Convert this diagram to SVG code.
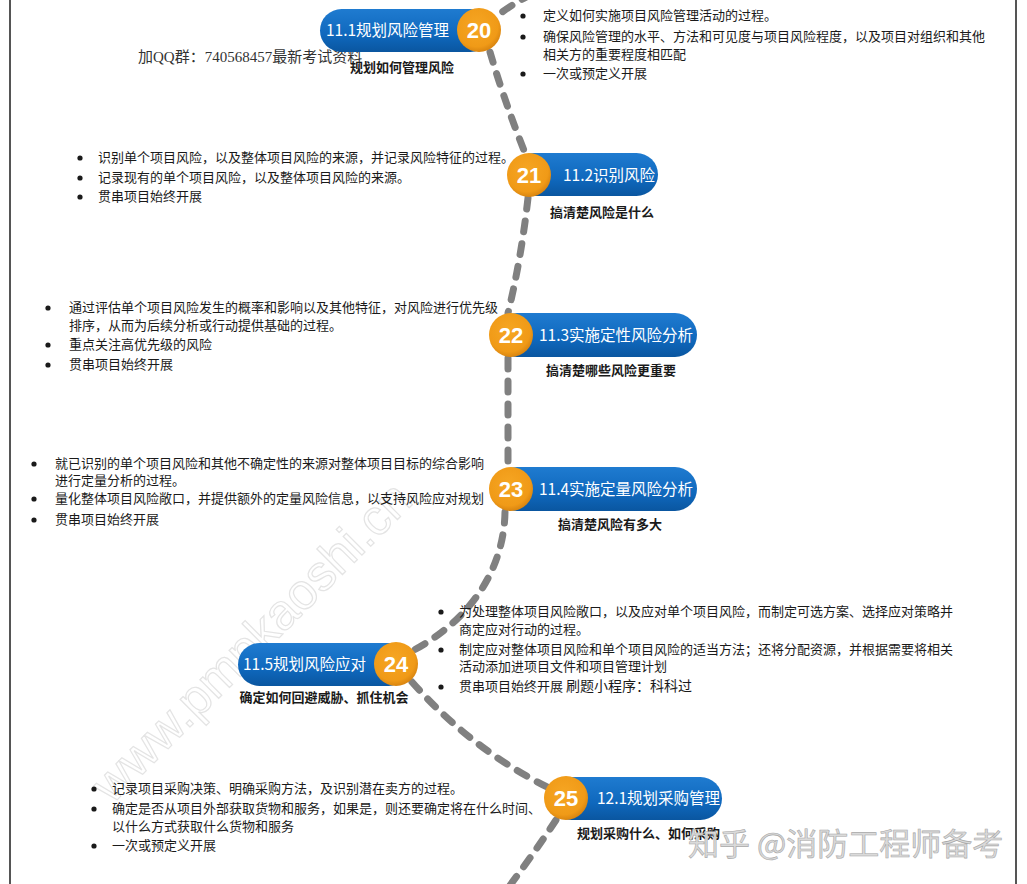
<svg xmlns="http://www.w3.org/2000/svg" width="1027" height="884" viewBox="0 0 1027 884">
<defs>
<linearGradient id="gBlue" x1="0" y1="0" x2="0" y2="1">
<stop offset="0" stop-color="#1f7bd0"/>
<stop offset="0.6" stop-color="#0f68bd"/>
<stop offset="1" stop-color="#0a56a0"/>
</linearGradient>
<radialGradient id="gOrange" cx="0.45" cy="0.4" r="0.6">
<stop offset="0" stop-color="#f6a623"/>
<stop offset="0.8" stop-color="#f09a17"/>
<stop offset="1" stop-color="#d98510"/>
</radialGradient>
<style>
.pill{fill:url(#gBlue);}
.circ{fill:url(#gOrange);}
.lbl{font-family:"Noto Sans CJK SC","Noto Sans",sans-serif;font-size:15.5px;fill:#ffffff;}
.num{font-family:"Liberation Sans","Noto Sans",sans-serif;font-size:22px;font-weight:bold;fill:#ffffff;text-anchor:middle;}
.sub{font-family:"Noto Sans CJK SC",sans-serif;font-size:13px;font-weight:bold;fill:#1a1a1a;}
.txt{font-family:"Noto Sans CJK SC",sans-serif;font-size:13px;fill:#1a1a1a;}
.bul{fill:#1a1a1a;}
.dash{fill:none;stroke:#808080;stroke-width:7;stroke-linecap:round;stroke-dasharray:11 12;}
.wm{font-family:"Liberation Sans",sans-serif;font-size:50px;fill:none;stroke:#e4e4e4;stroke-width:1.2;}
</style>
</defs>
<rect x="0" y="0" width="1027" height="884" fill="#ffffff"/>
<line x1="10" y1="0" x2="10" y2="884" stroke="#555" stroke-width="2"/>
<line x1="1016" y1="0" x2="1016" y2="884" stroke="#555" stroke-width="2"/>

<text class="wm" x="0" y="0" transform="translate(112,805) rotate(-45)">www.pmpkaoshi.cn</text>

<g id="connectors">
<path class="dash" d="M532,-6 Q512,4 497,16"/>
<path class="dash" d="M490,52 Q504,100 525,153"/>
<path class="dash" d="M528,198 Q521,260 508,313"/>
<path class="dash" d="M508,358 L508,467"/>
<path class="dash" d="M505,512 C504,570 470,620 414,650"/>
<path class="dash" d="M412,682 Q470,748 547,787"/>
<path class="dash" d="M556,820 Q535,852 505,892"/>
</g>

<text x="138" y="62" style="font-family:'Liberation Serif','Noto Sans CJK SC',serif;font-size:15px;fill:#333">加QQ群：740568457最新考试资料</text>

<g id="node20">
<rect class="pill" x="320" y="9" width="172" height="43" rx="21.5"/>
<circle class="circ" cx="479" cy="30" r="22"/>
<text class="lbl" x="326" y="36">11.1规划风险管理</text>
<text class="num" x="479" y="38">20</text>
<text class="sub" x="402" y="72" text-anchor="middle">规划如何管理风险</text>
</g>
<g id="text20" class="txt">
<circle class="bul" cx="523" cy="16" r="2.6"/><text x="543" y="20">定义如何实施项目风险管理活动的过程。</text>
<circle class="bul" cx="523" cy="37" r="2.6"/><text x="543" y="41">确保风险管理的水平、方法和可见度与项目风险程度，以及项目对组织和其他</text>
<text x="543" y="59">相关方的重要程度相匹配</text>
<circle class="bul" cx="523" cy="74" r="2.6"/><text x="543" y="78">一次或预定义开展</text>
</g>

<g id="node21">
<rect class="pill" x="512" y="153" width="146" height="43" rx="21.5"/>
<circle class="circ" cx="529" cy="175" r="22"/>
<text class="lbl" x="563" y="181">11.2识别风险</text>
<text class="num" x="529" y="183">21</text>
<text class="sub" x="602" y="217" text-anchor="middle">搞清楚风险是什么</text>
</g>
<g id="text21" class="txt">
<circle class="bul" cx="80" cy="158" r="2.6"/><text x="98" y="162">识别单个项目风险，以及整体项目风险的来源，并记录风险特征的过程。</text>
<circle class="bul" cx="80" cy="178" r="2.6"/><text x="98" y="182">记录现有的单个项目风险，以及整体项目风险的来源。</text>
<circle class="bul" cx="80" cy="197" r="2.6"/><text x="98" y="201">贯串项目始终开展</text>
</g>

<g id="node22">
<rect class="pill" x="495" y="313" width="202" height="44" rx="22"/>
<circle class="circ" cx="511" cy="335" r="22"/>
<text class="lbl" x="539" y="341">11.3实施定性风险分析</text>
<text class="num" x="511" y="343">22</text>
<text class="sub" x="611" y="375" text-anchor="middle">搞清楚哪些风险更重要</text>
</g>
<g id="text22" class="txt">
<circle class="bul" cx="48" cy="308" r="2.6"/><text x="69" y="312">通过评估单个项目风险发生的概率和影响以及其他特征，对风险进行优先级</text>
<text x="69" y="330">排序，从而为后续分析或行动提供基础的过程。</text>
<circle class="bul" cx="48" cy="345" r="2.6"/><text x="69" y="349">重点关注高优先级的风险</text>
<circle class="bul" cx="48" cy="365" r="2.6"/><text x="69" y="369">贯串项目始终开展</text>
</g>

<g id="node23">
<rect class="pill" x="495" y="467" width="202" height="44" rx="22"/>
<circle class="circ" cx="511" cy="489" r="22"/>
<text class="lbl" x="539" y="495">11.4实施定量风险分析</text>
<text class="num" x="511" y="497">23</text>
<text class="sub" x="610" y="529" text-anchor="middle">搞清楚风险有多大</text>
</g>
<g id="text23" class="txt">
<circle class="bul" cx="34" cy="464" r="2.6"/><text x="55" y="468">就已识别的单个项目风险和其他不确定性的来源对整体项目目标的综合影响</text>
<text x="55" y="485">进行定量分析的过程。</text>
<circle class="bul" cx="34" cy="499" r="2.6"/><text x="55" y="503">量化整体项目风险敞口，并提供额外的定量风险信息，以支持风险应对规划</text>
<circle class="bul" cx="34" cy="520" r="2.6"/><text x="55" y="524">贯串项目始终开展</text>
</g>

<g id="node24">
<rect class="pill" x="238" y="643" width="172" height="43" rx="21.5"/>
<circle class="circ" cx="396" cy="664" r="22"/>
<text class="lbl" x="243" y="670">11.5规划风险应对</text>
<text class="num" x="396" y="672">24</text>
<text class="sub" x="324" y="702" text-anchor="middle">确定如何回避威胁、抓住机会</text>
</g>
<g id="text24" class="txt">
<circle class="bul" cx="441" cy="612" r="2.6"/><text x="459" y="616">为处理整体项目风险敞口，以及应对单个项目风险，而制定可选方案、选择应对策略并</text>
<text x="459" y="634">商定应对行动的过程。</text>
<circle class="bul" cx="441" cy="650" r="2.6"/><text x="459" y="654">制定应对整体项目风险和单个项目风险的适当方法；还将分配资源，并根据需要将相关</text>
<text x="459" y="671">活动添加进项目文件和项目管理计划</text>
<circle class="bul" cx="441" cy="687" r="2.6"/><text x="459" y="691">贯串项目始终开展 <tspan style="font-size:14px">刷题小程序：科科过</tspan></text>
</g>

<g id="node25">
<rect class="pill" x="550" y="777" width="172" height="43" rx="21.5"/>
<circle class="circ" cx="566" cy="798" r="22"/>
<text class="lbl" x="597" y="804">12.1规划采购管理</text>
<text class="num" x="566" y="806">25</text>
<text class="sub" x="577" y="838">规划采购什么、如何采购</text>
</g>
<g id="text25" class="txt">
<circle class="bul" cx="94" cy="789" r="2.6"/><text x="112" y="793">记录项目采购决策、明确采购方法，及识别潜在卖方的过程。</text>
<circle class="bul" cx="94" cy="809" r="2.6"/><text x="112" y="813">确定是否从项目外部获取货物和服务，如果是，则还要确定将在什么时间、</text>
<text x="112" y="831">以什么方式获取什么货物和服务</text>
<circle class="bul" cx="94" cy="846" r="2.6"/><text x="112" y="850">一次或预定义开展</text>
</g>

<text x="688" y="855" style="font-family:'Noto Sans CJK SC',sans-serif;font-size:31px;fill:#dadada;stroke:#a8a8a8;stroke-width:0.6">知乎 @消防工程师备考</text>
</svg>
